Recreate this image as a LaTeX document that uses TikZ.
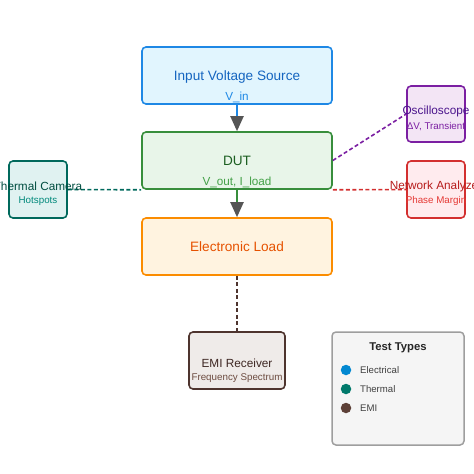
\documentclass[tikz,border=0pt]{standalone}
\usepackage{fontspec}
\setmainfont{Liberation Sans}
\usetikzlibrary{arrows.meta}

\definecolor{srcfill}{HTML}{E1F5FE}
\definecolor{srcline}{HTML}{1E88E5}
\definecolor{srctext}{HTML}{1565C0}
\definecolor{dutfill}{HTML}{E8F5E9}
\definecolor{dutline}{HTML}{388E3C}
\definecolor{duttext}{HTML}{1B5E20}
\definecolor{dutsub}{HTML}{43A047}
\definecolor{loadfill}{HTML}{FFF3E0}
\definecolor{loadline}{HTML}{FB8C00}
\definecolor{loadtext}{HTML}{E65100}
\definecolor{thfill}{HTML}{E0F2F1}
\definecolor{thline}{HTML}{00695C}
\definecolor{thtext}{HTML}{004D40}
\definecolor{thsub}{HTML}{00897B}
\definecolor{oscfill}{HTML}{F3E5F5}
\definecolor{oscline}{HTML}{7B1FA2}
\definecolor{osctext}{HTML}{4A148C}
\definecolor{netfill}{HTML}{FFEBEE}
\definecolor{netline}{HTML}{D32F2F}
\definecolor{nettext}{HTML}{B71C1C}
\definecolor{netsub}{HTML}{E53935}
\definecolor{emifill}{HTML}{EFEBE9}
\definecolor{emiline}{HTML}{4E342E}
\definecolor{emitext}{HTML}{3E2723}
\definecolor{emisub}{HTML}{6D4C41}
\definecolor{legfill}{HTML}{F5F5F5}
\definecolor{legline}{HTML}{9E9E9E}
\definecolor{elec}{HTML}{0288D1}
\definecolor{therm}{HTML}{00796B}
\definecolor{emi}{HTML}{5D4037}
\definecolor{tipgray}{HTML}{555555}

\begin{document}
\begin{tikzpicture}[x=1pt,y=-1pt,
  box/.style={draw, rounded corners=4pt, line width=1.6pt, minimum width=190pt, minimum height=57pt, inner sep=0pt},
  tool/.style={draw, rounded corners=4pt, line width=1.6pt, minimum width=58pt, minimum height=57pt, inner sep=0pt},
  ttl/.style={font=\fontsize{13.6}{15}\selectfont, inner sep=0pt},
  sub/.style={font=\fontsize{11.7}{13}\selectfont, inner sep=0pt},
  tttl/.style={font=\fontsize{11.8}{13}\selectfont, inner sep=0pt},
  tsub/.style={font=\fontsize{9.8}{11}\selectfont, inner sep=0pt},
  flow/.style={line width=2pt, -{Triangle[length=15pt, width=13pt, color=tipgray]}},
  probe/.style={line width=1.6pt, dash pattern=on 4pt off 2.5pt},
  dot/.style={circle, minimum size=10.5pt, inner sep=0pt},
  leg/.style={font=\fontsize{9.6}{11}\selectfont, anchor=west, inner sep=0pt, text=black!75}]

\useasboundingbox (0,0) rectangle (474,474);

\node[box, fill=srcfill, draw=srcline] (src) at (237,75.5) {};
\node[box, fill=dutfill, draw=dutline] (dut) at (237,160.5) {};
\node[box, fill=loadfill, draw=loadline] (load) at (237,246.5) {};
\node[tool, fill=thfill, draw=thline] (cam) at (38,189.5) {};
\node[tool, fill=oscfill, draw=oscline, minimum height=56pt] (osc) at (436,114) {};
\node[tool, fill=netfill, draw=netline] (net) at (436,189.5) {};
\node[box, fill=emifill, draw=emiline, minimum width=96pt] (emi) at (237,360.5) {};

\draw[flow, draw=srcline] (src) -- (dut);
\draw[flow, draw=dutline] (dut) -- (load);
\draw[probe, draw=emiline] (load) -- (emi);
\draw[probe, draw=thline] (cam.east) -- (dut.south west);
\draw[probe, draw=netline] (dut.south east) -- (net.west);
\draw[probe, draw=oscline] (dut.east) -- (osc.west);

\node[ttl, text=srctext] (srct) at (237,76.5) {Input Voltage Source};
\node[sub, text=srcline] (srcs) at (237,97) {V\_in};
\node[ttl, text=duttext] (dutt) at (237,161) {DUT};
\node[sub, text=dutsub] (duts) at (237,182) {V\_out, I\_load};
\node[ttl, text=loadtext] (loadt) at (237,247) {Electronic Load};
\node[tttl, text=thtext] (camt) at (38,186) {Thermal Camera};
\node[tsub, text=thsub] (cams) at (38,201) {Hotspots};
\node[tttl, text=osctext] (osct) at (436,111) {Oscilloscope};
\node[tsub, text=oscline] (oscs) at (436,127) {ΔV, Transient};
\node[tttl, text=nettext] (nett) at (436,186) {Network Analyzer};
\node[tsub, text=netsub] (nets) at (436,201) {Phase Margin};
\node[tttl, text=emitext] (emit) at (237,363) {EMI Receiver};
\node[tsub, text=emisub] (emis) at (237,378) {Frequency Spectrum};

\node[draw=legline, fill=legfill, rounded corners=4pt, line width=1.5pt, minimum width=132pt, minimum height=113pt] (legend) at (398,388.5) {};
\node[font=\bfseries\fontsize{11.3}{13}\selectfont, inner sep=0pt, text=black!85] (legt) at (398,347.5) {Test Types};
\node[dot, fill=elec] (delec) at (346,370) {};
\node[dot, fill=therm] (dtherm) at (346,389) {};
\node[dot, fill=emi] (demi) at (346,408) {};
\node[leg] (lelec) at (360,370) {Electrical};
\node[leg] (ltherm) at (360,389) {Thermal};
\node[leg] (lemi) at (360,408) {EMI};

\end{tikzpicture}
\end{document}
